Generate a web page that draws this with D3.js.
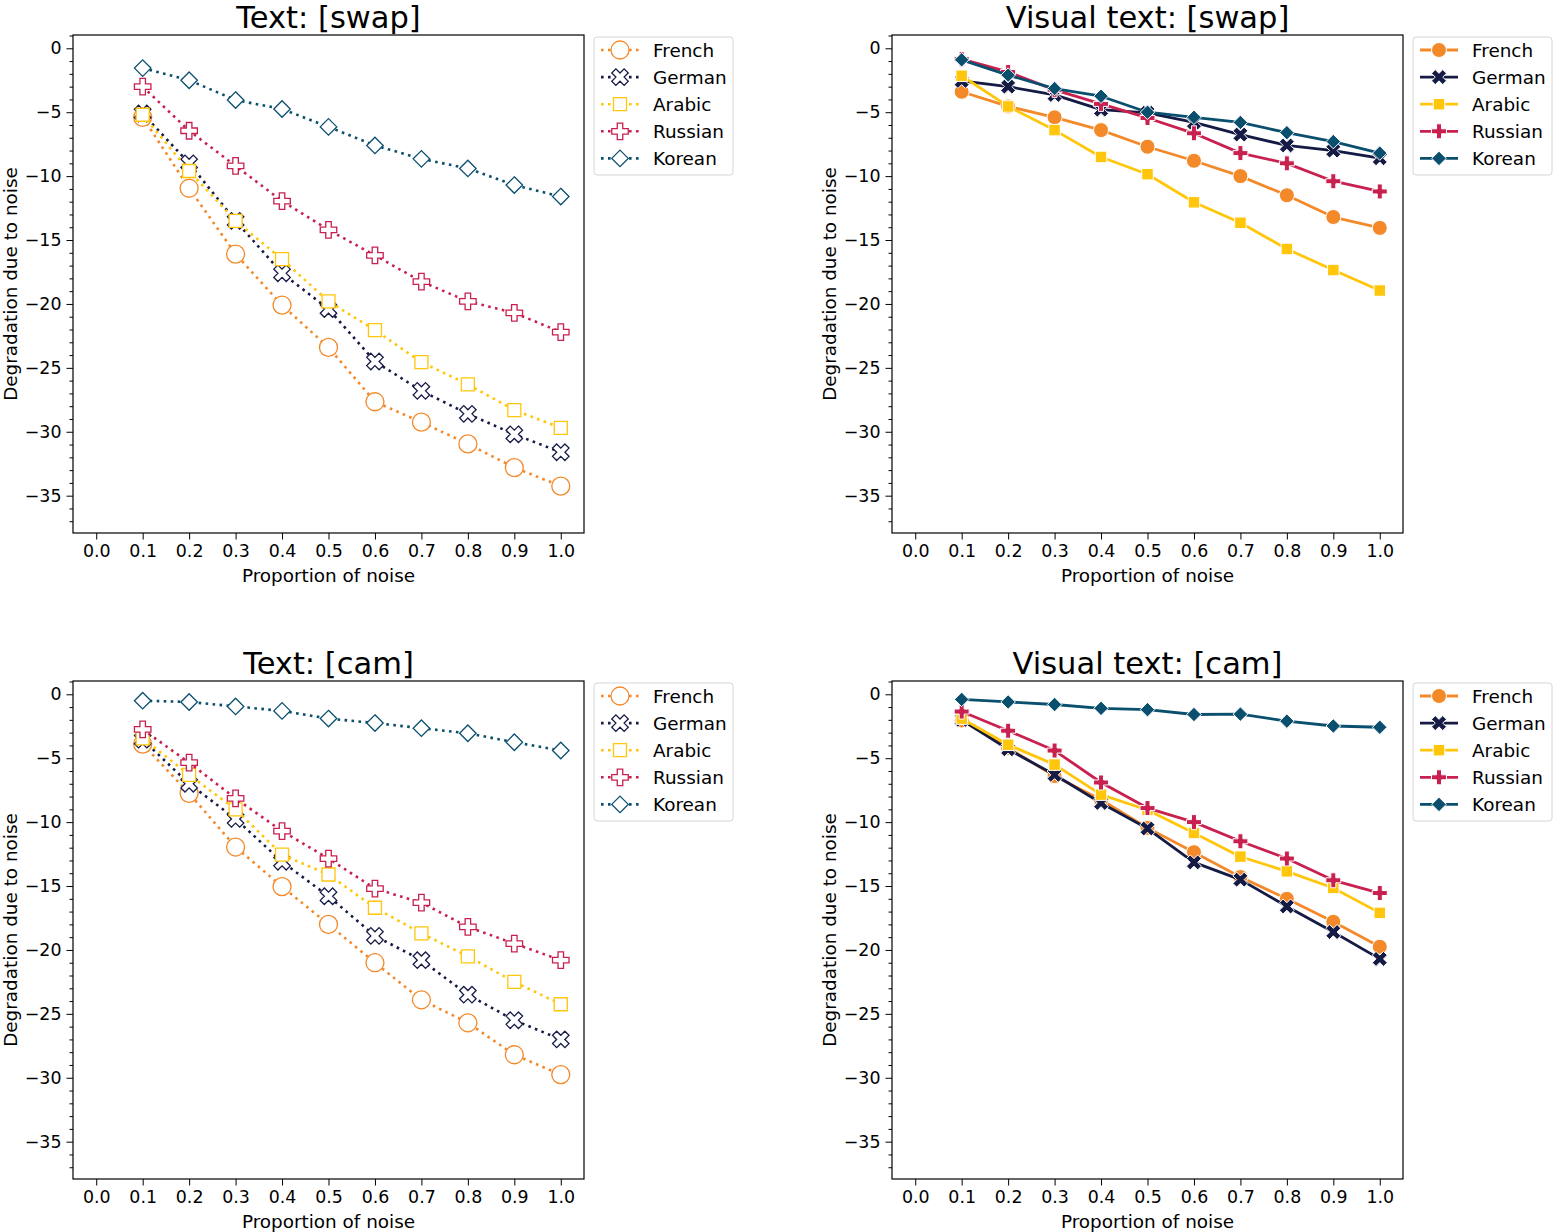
<!DOCTYPE html>
<html>
<head>
<meta charset="utf-8">
<script src="https://cdn.jsdelivr.net/npm/d3@7"></script>
<style>
  body { margin: 0; background: #fff; }
  text { font-family: "DejaVu Sans", sans-serif; fill: #000; }
</style>
</head>
<body>
<div id="chart"></div>
<script>
// proportions of noise on the x axis
const noise = [0.1, 0.2, 0.3, 0.4, 0.5, 0.6, 0.7, 0.8, 0.9, 1.0];
const languages = ["French", "German", "Arabic", "Russian", "Korean"];
const colors = ["#f4892a", "#161b45", "#ffc60b", "#c8204f", "#0a4f6e"];
const xTicks = [0.0, 0.1, 0.2, 0.3, 0.4, 0.5, 0.6, 0.7, 0.8, 0.9, 1.0];
const yTicks = [0, -5, -10, -15, -20, -25, -30, -35];

// rows follow languages order
const textSwap = [
  [-5.4, -10.95, -16.1, -20.1, -23.4, -27.65, -29.25, -30.95, -32.8, -34.25],
  [-5.1, -9.0, -13.5, -17.6, -20.4, -24.5, -26.8, -28.6, -30.2, -31.6],
  [-5.2, -9.6, -13.5, -16.5, -19.8, -22.05, -24.55, -26.3, -28.3, -29.7],
  [-3.0, -6.45, -9.2, -11.95, -14.2, -16.2, -18.25, -19.8, -20.7, -22.2],
  [-1.55, -2.5, -4.05, -4.75, -6.15, -7.6, -8.65, -9.4, -10.7, -11.6]
];
const visualSwap = [
  [-3.4, -4.55, -5.4, -6.4, -7.7, -8.8, -10.0, -11.5, -13.2, -14.05],
  [-2.55, -3.0, -3.65, -4.8, -5.05, -5.8, -6.75, -7.6, -8.0, -8.6],
  [-2.15, -4.55, -6.4, -8.5, -9.85, -12.05, -13.65, -15.7, -17.35, -18.95],
  [-0.85, -1.85, -3.25, -4.35, -5.45, -6.65, -8.2, -9.0, -10.4, -11.2],
  [-0.9, -2.1, -3.15, -3.75, -5.0, -5.4, -5.8, -6.6, -7.3, -8.2]
];
const textCam = [
  [-3.9, -7.75, -11.95, -15.05, -18.0, -21.0, -23.9, -25.7, -28.2, -29.75],
  [-3.55, -7.0, -9.75, -13.1, -15.8, -18.9, -20.8, -23.5, -25.5, -27.0],
  [-3.45, -6.3, -9.0, -12.55, -14.1, -16.7, -18.7, -20.5, -22.5, -24.25],
  [-2.75, -5.35, -8.15, -10.7, -12.85, -15.2, -16.3, -18.2, -19.5, -20.8],
  [-0.5, -0.6, -0.95, -1.3, -1.9, -2.25, -2.65, -3.05, -3.75, -4.4]
];
const visualCam = [
  [-2.05, -4.2, -6.4, -8.25, -10.45, -12.35, -14.3, -16.0, -17.8, -19.75],
  [-2.0, -4.3, -6.3, -8.5, -10.5, -13.15, -14.5, -16.6, -18.6, -20.7],
  [-1.9, -3.95, -5.5, -7.85, -9.05, -10.85, -12.7, -13.85, -15.15, -17.1],
  [-1.35, -2.85, -4.4, -6.9, -8.9, -10.0, -11.5, -12.85, -14.55, -15.55],
  [-0.4, -0.6, -0.8, -1.1, -1.2, -1.58, -1.55, -2.1, -2.48, -2.58]
];

const panels = [
  { title: "Text: [swap]", data: textSwap, kind: "text", left: 73, top: 35 },
  { title: "Visual text: [swap]", data: visualSwap, kind: "visual", left: 892, top: 35 },
  { title: "Text: [cam]", data: textCam, kind: "text", left: 73, top: 681 },
  { title: "Visual text: [cam]", data: visualCam, kind: "visual", left: 892, top: 681 }
];

const W = 1557, H = 1232;
const plotW = 511, plotH = 498;

// marker shapes (size = full extent in px)
const plusPts = (s) => {
  const r = s / 2, a = s / 6;
  return [[-a,-r],[a,-r],[a,-a],[r,-a],[r,a],[a,a],[a,r],[-a,r],[-a,a],[-r,a],[-r,-a],[-a,-a]];
};
const poly = (ctx, pts) => {
  ctx.moveTo(pts[0][0], pts[0][1]);
  pts.slice(1).forEach(p => ctx.lineTo(p[0], p[1]));
  ctx.closePath();
};
const symCircle = { draw(ctx, s) { const r = s / 2; ctx.moveTo(r, 0); ctx.arc(0, 0, r, 0, 2 * Math.PI); } };
const symSquare = { draw(ctx, s) { const r = s / 2; poly(ctx, [[-r,-r],[r,-r],[r,r],[-r,r]]); } };
const symPlus = { draw(ctx, s) { poly(ctx, plusPts(s)); } };
const symX = { draw(ctx, s) {
  const c = Math.SQRT1_2;
  const pts = plusPts(s / 0.943).map(p => [(p[0] - p[1]) * c, (p[0] + p[1]) * c]);
  poly(ctx, pts);
} };
const symDiamond = { draw(ctx, s) { const r = s / 2; poly(ctx, [[0,-r],[r,0],[0,r],[-r,0]]); } };
const symbols = [symCircle, symX, symSquare, symPlus, symDiamond];
const textSizes = [18, 16.5, 13, 16.5, 16.5];
const visualSizes = [15, 15, 11.5, 15, 14.5];

const svg = d3.select("#chart").append("svg")
  .attr("width", W)
  .attr("height", H);

function markerStyle(sel, kind, i) {
  if (kind === "text") {
    sel.attr("fill", "#fff").attr("stroke", colors[i]).attr("stroke-width", 1.3);
  } else {
    sel.attr("fill", colors[i]).attr("stroke", "#fff").attr("stroke-width", 1);
  }
}
function lineStyle(sel, kind, i) {
  sel.attr("fill", "none").attr("stroke", colors[i]);
  if (kind === "text") {
    sel.attr("stroke-width", 2.6).attr("stroke-dasharray", "2.6,4.4");
  } else {
    sel.attr("stroke-width", 2.8).attr("stroke-linejoin", "round");
  }
}

panels.forEach(p => {
  const g = svg.append("g").attr("transform", `translate(${p.left},${p.top})`);

  const x = d3.scaleLinear().domain([-0.05, 1.05]).range([0, plotW]);
  const y = d3.scaleLinear().domain([-37.92, 1.04]).range([plotH, 0]);

  // axes
  g.append("g")
    .attr("transform", `translate(0,${plotH})`)
    .call(d3.axisBottom(x).tickValues(xTicks).tickFormat(d3.format(".1f")).tickSize(6.5).tickPadding(5));
  g.append("g")
    .call(d3.axisLeft(y).tickValues(yTicks).tickFormat(d3.format("d")).tickSize(6.5).tickPadding(5));
  const minor = d3.range(-37, 2).filter(v => v % 5 !== 0);
  g.append("g")
    .call(d3.axisLeft(y).tickValues(minor).tickFormat("").tickSize(3.5));
  g.selectAll(".domain").remove();
  g.selectAll(".tick line").attr("stroke", "#000").attr("stroke-width", 1);
  g.selectAll(".tick text").attr("font-size", 17.4).attr("font-family", "DejaVu Sans").attr("fill", "#000");

  // series
  const sizes = p.kind === "text" ? textSizes : visualSizes;
  p.data.forEach((vals, i) => {
    const pts = noise.map((n, k) => [n, vals[k]]);
    g.append("path")
      .datum(pts)
      .attr("d", d3.line().x(d => x(d[0])).y(d => y(d[1])))
      .call(lineStyle, p.kind, i);
    g.append("g").selectAll("path")
      .data(pts)
      .enter().append("path")
      .attr("transform", d => `translate(${x(d[0])},${y(d[1])})`)
      .attr("d", d3.symbol().type(symbols[i]).size(sizes[i]))
      .call(markerStyle, p.kind, i);
  });

  // frame
  g.append("rect")
    .attr("width", plotW).attr("height", plotH)
    .attr("fill", "none").attr("stroke", "#000").attr("stroke-width", 1.2);

  // titles and labels
  g.append("text")
    .attr("x", plotW / 2).attr("y", -7)
    .attr("text-anchor", "middle")
    .attr("font-size", 30.5)
    .text(p.title);
  g.append("text")
    .attr("x", plotW / 2).attr("y", plotH + 49)
    .attr("text-anchor", "middle")
    .attr("font-size", 18.4)
    .text("Proportion of noise");
  g.append("text")
    .attr("transform", `translate(${-56},${plotH / 2}) rotate(-90)`)
    .attr("text-anchor", "middle")
    .attr("font-size", 18.4)
    .text("Degradation due to noise");

  // legend
  const lg = g.append("g").attr("transform", `translate(${plotW + 10},2)`);
  lg.append("rect")
    .attr("width", 139).attr("height", 138).attr("rx", 3)
    .attr("fill", "#fff").attr("fill-opacity", 0.8)
    .attr("stroke", "#d6d6d6").attr("stroke-width", 1);
  languages.forEach((lang, i) => {
    const cy = 13 + i * 27.1;
    lg.append("line")
      .attr("x1", 7).attr("x2", 45).attr("y1", cy).attr("y2", cy)
      .call(lineStyle, p.kind, i);
    lg.append("path")
      .attr("transform", `translate(26,${cy})`)
      .attr("d", d3.symbol().type(symbols[i]).size(sizes[i]))
      .call(markerStyle, p.kind, i);
    lg.append("text")
      .attr("x", 59).attr("y", cy + 6.5)
      .attr("font-size", 18.4)
      .text(lang);
  });
});
</script>
</body>
</html>
